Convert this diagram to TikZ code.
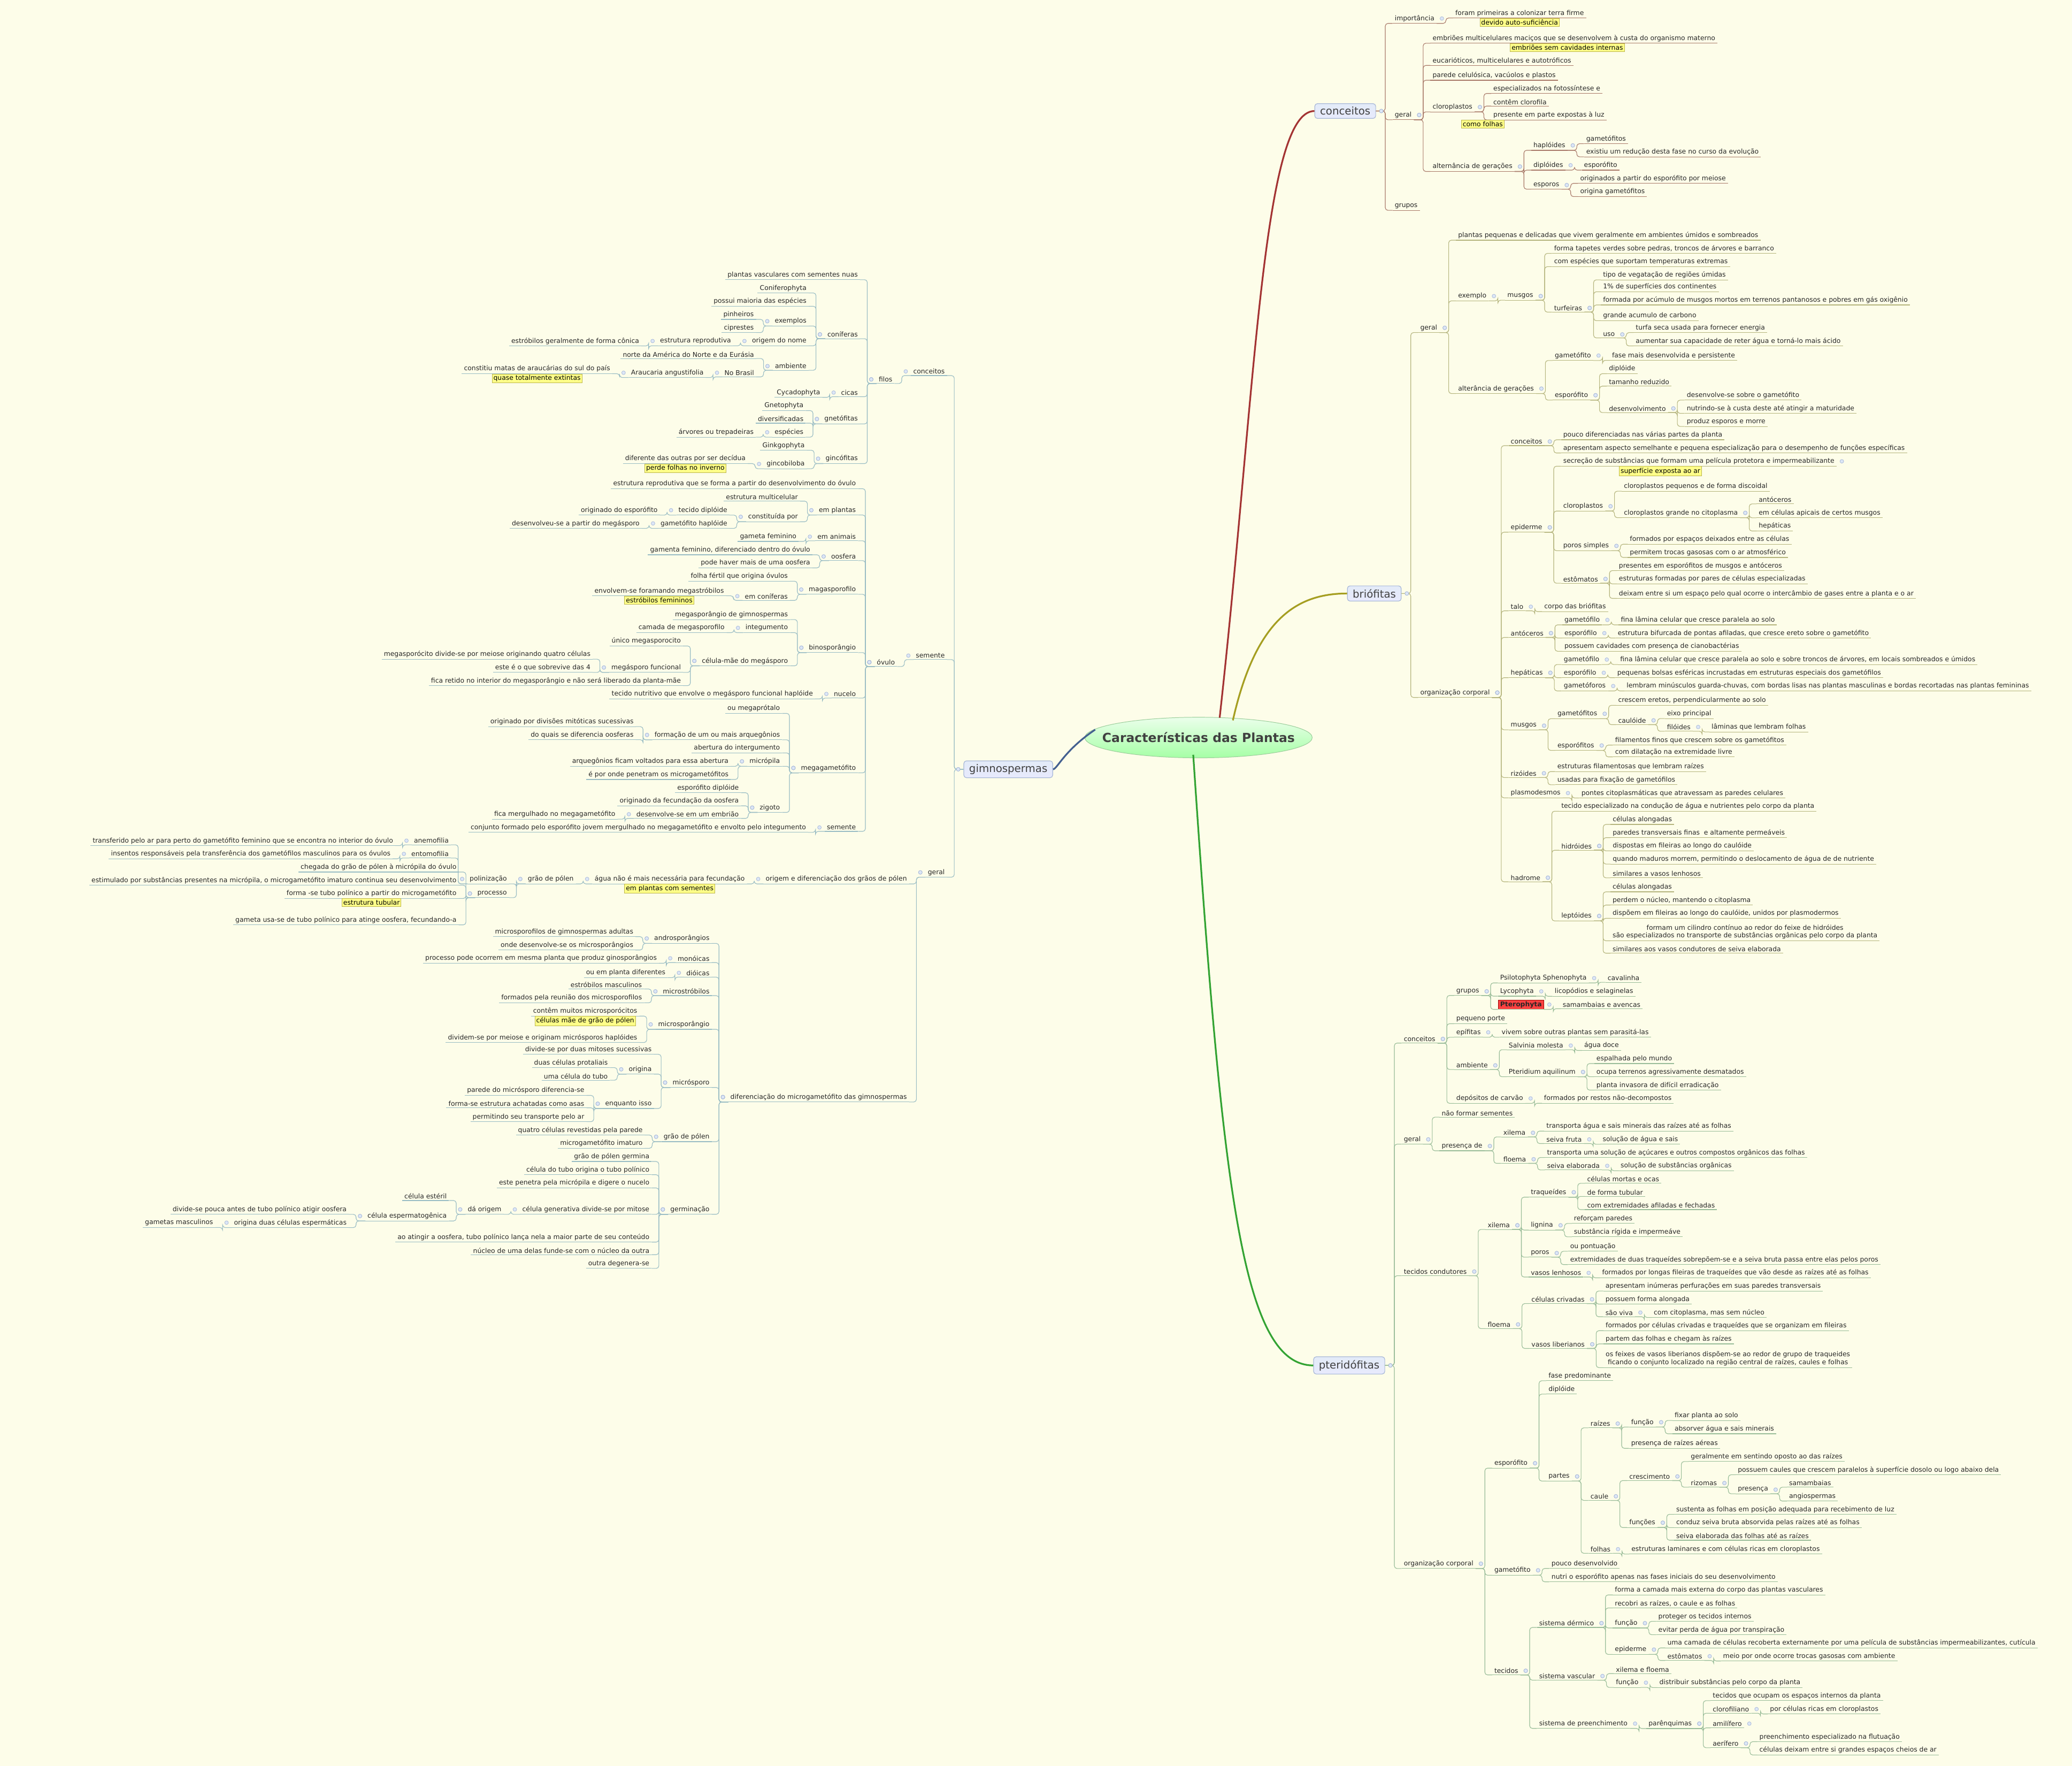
\documentclass[tikz,border=0pt]{standalone}
\usepackage{fontspec}
\setmainfont{DejaVu Sans}
\usetikzlibrary{shapes.geometric,shadings}
\definecolor{bgc}{HTML}{FDFDE9}
\definecolor{lconc}{HTML}{A87868}
\definecolor{lbri}{HTML}{B4B47C}
\definecolor{lpte}{HTML}{98BC98}
\definecolor{lgim}{HTML}{98BCC4}
\definecolor{dotf}{HTML}{DCE6F6}
\definecolor{dotd}{HTML}{A8B8D8}
\definecolor{hly}{HTML}{FFFF88}
\newcommand\fs{\fontsize{5}{6}\selectfont}
\tikzset{
  t/.style={font=\fs, inner xsep=1.5pt, inner ysep=1pt, text=black!85},
  ln/.style={draw=lconc, line width=0.45pt},
  dot/.style={fill=dotf, draw=dotd, line width=0.3pt},
  hl/.style={font=\fs, anchor=north, fill=hly, draw=olive!60, line width=0.3pt, inner xsep=1pt, inner ysep=1pt},
  box/.style={font=\fontsize{8}{9}\selectfont, text=black!75, rounded corners=2pt, draw=dotd, top color=white!20!dotf, bottom color=dotf!80!blue!30, inner xsep=4pt, inner ysep=2.5pt, line width=0.5pt},
  rc/.style={line width=1.3pt}
}
\newcommand\R[5][]{%
  \node[t,anchor=west,xshift=12.5pt,#1] (#3) at (#2.south east |- 0,#4) {#5};
  \draw[ln] (#3.south west) -- (#3.south east);
  \draw[ln,rounded corners=2pt] (#2.south east) -- ([xshift=7pt]#2.south east) |- (#3.south west);
  \filldraw[dot] ([xshift=4pt]#2.east) circle (1.4pt);}
\newcommand\Lf[5][]{%
  \node[t,anchor=east,xshift=-12.5pt,#1] (#3) at (#2.south west |- 0,#4) {#5};
  \draw[ln] (#3.south west) -- (#3.south east);
  \draw[ln,rounded corners=2pt] (#2.south west) -- ([xshift=-7pt]#2.south west) |- (#3.south east);
  \filldraw[dot] ([xshift=-4pt]#2.west) circle (1.4pt);}
\begin{document}
\begin{tikzpicture}[x=1pt,y=-1pt]
\fill[bgc] (0,0) rectangle (1568,1336);
\useasboundingbox (0,0) rectangle (1568,1336);

% root and main boxes
\node[ellipse, inner xsep=-12pt, inner ysep=7pt, draw=green!50!black!40, top color=green!8, bottom color=green!35!white, font=\bfseries\fontsize{9.5}{11}\selectfont, text=black!75] (root) at (907,558) {Características das Plantas};
\node[box] (con) at (1018,84) {conceitos};
\node[box] (bri) at (1040,449) {briófitas};
\node[box] (pte) at (1021,1033) {pteridófitas};
\node[box] (gim) at (763,582) {gimnospermas};
\draw[rc, draw=red!55!black!80] (root.north east) ++(-45pt,4pt) .. controls (950,300) and (955,84) .. (con.west);
\draw[rc, draw=olive!80] (root.north east) ++(-35pt,2pt) .. controls (950,470) and (980,449) .. (bri.west);
\draw[rc, draw=green!55!black!80] (root.south east) ++(-65pt,-2pt) .. controls (925,900) and (940,1033) .. (pte.west);
\draw[rc, draw=cyan!45!blue!65!black] (root.west) ++(8pt,6pt) .. controls (805,568) and (800,582) .. (gim.east);
\coordinate (conX) at (con.east);
\coordinate (briX) at (bri.east);
\coordinate (pteX) at (pte.east);
\coordinate (gimX) at (gim.west);

% ---------------- conceitos
\R{conX}{ci}{14}{importância}
\R{ci}{ci1}{10}{foram primeiras a colonizar terra firme}
\node[hl] (h1) at (ci1.south) {devido auto-suficiência};
\R{conX}{cg}{87}{geral}
\R{cg}{cg1}{29}{embriões multicelulares maciços que se desenvolvem à custa do organismo materno}
\node[hl,xshift=-5pt] (h2) at (cg1.south) {embriões sem cavidades internas};
\R{cg}{cg2}{46}{eucarióticos, multicelulares e autotróficos}
\R{cg}{cg3}{57}{parede celulósica, vacúolos e plastos}
\R{cg}{cg4}{81}{cloroplastos}
\R{cg4}{cg41}{67}{especializados na fotossíntese e}
\R{cg4}{cg42}{77}{contêm clorofila}
\R{cg4}{cg43}{87}{presente em parte expostas à luz}
\node[hl,xshift=-50pt] (h3) at (cg43.south) {como folhas};
\R{cg}{cg5}{126}{alternância de gerações}
\R{cg5}{cg51}{110}{haplóides}
\R{cg51}{cg511}{105}{gametófitos}
\R{cg51}{cg512}{115}{existiu um redução desta fase no curso da evolução}
\R{cg5}{cg52}{125}{diplóides}
\R{cg52}{cg521}{125}{esporófito}
\R{cg5}{cg53}{140}{esporos}
\R{cg53}{cg531}{135}{originados a partir do esporófito por meiose}
\R{cg53}{cg532}{145}{origina gametófitos}
\R{conX}{cgr}{156}{grupos}

% ---------------- briófitas
\tikzset{ln/.style={draw=lbri, line width=0.45pt}}
\R{briX}{bg}{248}{geral}
\R{bg}{bg1}{178}{plantas pequenas e delicadas que vivem geralmente em ambientes úmidos e sombreados}
\R{bg}{bg2}{224}{exemplo}
\R{bg2}{bg21}{224}{musgos}
\R{bg21}{bg211}{188}{forma tapetes verdes sobre pedras, troncos de árvores e barranco}
\R{bg21}{bg212}{198}{com espécies que suportam temperaturas extremas}
\R{bg21}{bg213}{233}{turfeiras}
\R{bg213}{t1}{208}{tipo de vegatação de regiões úmidas}
\R{bg213}{t2}{217}{1\% de superfícies dos continentes}
\R{bg213}{t3}{227}{formada por acúmulo de musgos mortos em terrenos pantanosos e pobres em gás oxigênio}
\R{bg213}{t4}{239}{grande acumulo de carbono}
\R{bg213}{t5}{253}{uso}
\R{t5}{t51}{248}{turfa seca usada para fornecer energia}
\R{t5}{t52}{258}{aumentar sua capacidade de reter água e torná-lo mais ácido}
\R{bg}{bg3}{294}{alterância de gerações}
\R{bg3}{ag1}{269}{gametófito}
\R{ag1}{ag11}{269}{fase mais desenvolvida e persistente}
\R{bg3}{ag2}{299}{esporófito}
\R{ag2}{ag21}{279}{diplóide}
\R{ag2}{ag22}{289}{tamanho reduzido}
\R{ag2}{ag23}{309}{desenvolvimento}
\R{ag23}{ag231}{299}{desenvolve-se sobre o gametófito}
\R{ag23}{ag232}{309}{nutrindo-se à custa deste até atingir a maturidade}
\R{ag23}{ag233}{319}{produz esporos e morre}
\R{briX}{bo}{524}{organização corporal}
\R{bo}{bo1}{334}{conceitos}
\R{bo1}{bo11}{329}{pouco diferenciadas nas várias partes da planta}
\R{bo1}{bo12}{339}{apresentam aspecto semelhante e pequena especialização para o desempenho de funções específicas}
\R{bo}{bo2}{399}{epiderme}
\R{bo2}{bo21}{349}{secreção de substâncias que formam uma película protetora e impermeabilizante}
\filldraw[dot] ([xshift=4pt]bo21.east) circle (1.4pt);
\node[hl,xshift=-29pt] (h4) at (bo21.south) {superfície exposta ao ar};
\R{bo2}{bo22}{383}{cloroplastos}
\R{bo22}{bo221}{368}{cloroplastos pequenos e de forma discoidal}
\R{bo22}{bo222}{388}{cloroplastos grande no citoplasma}
\R{bo222}{bo2221}{378}{antóceros}
\R{bo222}{bo2222}{388}{em células apicais de certos musgos}
\R{bo222}{bo2223}{398}{hepáticas}
\R{bo2}{bo23}{413}{poros simples}
\R{bo23}{bo231}{408}{formados por espaços deixados entre as células}
\R{bo23}{bo232}{418}{permitem trocas gasosas com o ar atmosférico}
\R{bo2}{bo24}{438}{estômatos}
\R{bo24}{bo241}{428}{presentes em esporófitos de musgos e antóceros}
\R{bo24}{bo242}{438}{estruturas formadas por pares de células especializadas}
\R{bo24}{bo243}{449}{deixam entre si um espaço pelo qual ocorre o intercâmbio de gases entre a planta e o ar}
\R{bo}{bo3}{459}{talo}
\R{bo3}{bo31}{459}{corpo das briófitas}
\R{bo}{bo4}{479}{antóceros}
\R{bo4}{bo41}{469}{gametófilo}
\R{bo41}{bo411}{469}{fina lâmina celular que cresce paralela ao solo}
\R{bo4}{bo42}{479}{esporófilo}
\R{bo42}{bo421}{479}{estrutura bifurcada de pontas afiladas, que cresce ereto sobre o gametófito}
\R{bo4}{bo43}{489}{possuem cavidades com presença de cianobactérias}
\R{bo}{bo5}{509}{hepáticas}
\R{bo5}{bo51}{499}{gametófilo}
\R{bo51}{bo511}{499}{fina lâmina celular que cresce paralela ao solo e sobre troncos de árvores, em locais sombreados e úmidos}
\R{bo5}{bo52}{509}{esporófilo}
\R{bo52}{bo521}{509}{pequenas bolsas esféricas incrustadas em estruturas especiais dos gametófilos}
\R{bo5}{bo53}{519}{gametóforos}
\R{bo53}{bo531}{519}{lembram minúsculos guarda-chuvas, com bordas lisas nas plantas masculinas e bordas recortadas nas plantas femininas}
\R{bo}{bo6}{549}{musgos}
\R{bo6}{bo61}{540}{gametófitos}
\R{bo61}{bo611}{530}{crescem eretos, perpendicularmente ao solo}
\R{bo61}{bo612}{545}{caulóide}
\R{bo612}{bo6121}{540}{eixo principal}
\R{bo612}{bo6122}{550}{filóides}
\R{bo6122}{bo61221}{550}{lâminas que lembram folhas}
\R{bo6}{bo62}{564}{esporófitos}
\R{bo62}{bo621}{560}{filamentos finos que crescem sobre os gametófitos}
\R{bo62}{bo622}{569}{com dilatação na extremidade livre}
\R{bo}{bo7}{585}{rizóides}
\R{bo7}{bo71}{580}{estruturas filamentosas que lembram raízes}
\R{bo7}{bo72}{590}{usadas para fixação de gametófilos}
\R{bo}{bo8}{600}{plasmodesmos}
\R{bo8}{bo81}{600}{pontes citoplasmáticas que atravessam as paredes celulares}
\R{bo}{bo9}{664}{hadrome}
\R{bo9}{bo91}{610}{tecido especializado na condução de água e nutrientes pelo corpo da planta}
\R{bo9}{bo92}{640}{hidróides}
\R{bo92}{bo921}{620}{células alongadas}
\R{bo92}{bo922}{630}{paredes transversais finas \ e altamente permeáveis}
\R{bo92}{bo923}{640}{dispostas em fileiras ao longo do caulóide}
\R{bo92}{bo924}{650}{quando maduros morrem, permitindo o deslocamento de água de de nutriente}
\R{bo92}{bo925}{661}{similares a vasos lenhosos}
\R{bo9}{bo93}{693}{leptóides}
\R{bo93}{bo931}{671}{células alongadas}
\R{bo93}{bo932}{681}{perdem o núcleo, mantendo o citoplasma}
\R{bo93}{bo933}{691}{dispõem em fileiras ao longo do caulóide, unidos por plasmodermos}
\R[align=center]{bo93}{bo934}{705}{formam um cilindro contínuo ao redor do feixe de hidróides\\são especializados no transporte de substâncias orgânicas pelo corpo da planta}
\R{bo93}{bo935}{718}{similares aos vasos condutores de seiva elaborada}

% ---------------- pteridófitas
\tikzset{ln/.style={draw=lpte, line width=0.45pt}}
\R{pteX}{pc}{786}{conceitos}
\R{pc}{pc1}{750}{grupos}
\R{pc1}{pc11}{740}{Psilotophyta Sphenophyta}
\R{pc11}{pc111}{740}{cavalinha}
\R{pc1}{pc12}{750}{Lycophyta}
\R{pc12}{pc121}{750}{licopódios e selaginelas}
\R[fill=red!75, draw=red!60!black, font=\fs\bfseries]{pc1}{pc13}{760}{Pterophyta}
\R{pc13}{pc131}{760}{samambaias e avencas}
\R{pc}{pc2}{771}{pequeno porte}
\R{pc}{pc3}{781}{epífitas}
\R{pc3}{pc31}{781}{vivem sobre outras plantas sem parasitá-las}
\R{pc}{pc4}{806}{ambiente}
\R{pc4}{pc41}{791}{Salvinia molesta}
\R{pc41}{pc411}{791}{água doce}
\R{pc4}{pc42}{811}{Pteridium aquilinum}
\R{pc42}{pc421}{801}{espalhada pelo mundo}
\R{pc42}{pc422}{811}{ocupa terrenos agressivamente desmatados}
\R{pc42}{pc423}{821}{planta invasora de difícil erradicação}
\R{pc}{pc5}{831}{depósitos de carvão}
\R{pc5}{pc51}{831}{formados por restos não-decompostos}
\R{pteX}{pg}{862}{geral}
\R{pg}{pg1}{842}{não formar sementes}
\R{pg}{pg2}{867}{presença de}
\R{pg2}{pg21}{857}{xilema}
\R{pg21}{pg211}{852}{transporta água e sais minerais das raízes até as folhas}
\R{pg21}{pg212}{862}{seiva fruta}
\R{pg212}{pg2121}{862}{solução de água e sais}
\R{pg2}{pg22}{877}{floema}
\R{pg22}{pg221}{872}{transporta uma solução de açúcares e outros compostos orgânicos das folhas}
\R{pg22}{pg222}{882}{seiva elaborada}
\R{pg222}{pg2221}{882}{solução de substâncias orgânicas}
\R{pteX}{pt}{962}{tecidos condutores}
\R{pt}{pt1}{927}{xilema}
\R{pt1}{pt11}{902}{traqueídes}
\R{pt11}{pt111}{892}{células mortas e ocas}
\R{pt11}{pt112}{902}{de forma tubular}
\R{pt11}{pt113}{912}{com extremidades afiladas e fechadas}
\R{pt1}{pt12}{927}{lignina}
\R{pt12}{pt121}{922}{reforçam paredes}
\R{pt12}{pt122}{932}{substância rígida e impermeáve}
\R{pt1}{pt13}{948}{poros}
\R{pt13}{pt131}{943}{ou pontuação}
\R{pt13}{pt132}{953}{extremidades de duas traqueídes sobrepõem-se e a seiva bruta passa entre elas pelos poros}
\R{pt1}{pt14}{963}{vasos lenhosos}
\R{pt14}{pt141}{963}{formados por longas fileiras de traqueídes que vão desde as raízes até as folhas}
\R{pt}{pt2}{1002}{floema}
\R{pt2}{pt21}{983}{células crivadas}
\R{pt21}{pt211}{973}{apresentam inúmeras perfurações em suas paredes transversais}
\R{pt21}{pt212}{983}{possuem forma alongada}
\R{pt21}{pt213}{993}{são viva}
\R{pt213}{pt2131}{993}{com citoplasma, mas sem núcleo}
\R{pt2}{pt22}{1017}{vasos liberianos}
\R{pt22}{pt221}{1003}{formados por células crivadas e traqueídes que se organizam em fileiras}
\R{pt22}{pt222}{1013}{partem das folhas e chegam às raízes}
\R[align=center]{pt22}{pt223}{1028}{os feixes de vasos liberianos dispõem-se ao redor de grupo de traqueides\\ficando o conjunto localizado na região central de raízes, caules e folhas}
\R{pteX}{po}{1183}{organização corporal}
\R{po}{po1}{1107}{esporófito}
\R{po1}{po11}{1041}{fase predominante}
\R{po1}{po12}{1051}{diplóide}
\R{po1}{po13}{1117}{partes}
\R{po13}{pr}{1077}{raízes}
\R{pr}{pr1}{1076}{função}
\R{pr1}{pr11}{1071}{fixar planta ao solo}
\R{pr1}{pr12}{1081}{absorver água e sais minerais}
\R{pr}{pr2}{1092}{presença de raízes aéreas}
\R{po13}{pk}{1132}{caule}
\R{pk}{pk1}{1117}{crescimento}
\R{pk1}{pk11}{1102}{geralmente em sentindo oposto ao das raízes}
\R{pk1}{pk12}{1122}{rizomas}
\R{pk12}{pk121}{1112}{possuem caules que crescem paralelos à superfície dosolo ou logo abaixo dela}
\R{pk12}{pk122}{1127}{presença}
\R{pk122}{pk1221}{1122}{samambaias}
\R{pk122}{pk1222}{1132}{angiospermas}
\R{pk}{pk2}{1152}{funções}
\R{pk2}{pk21}{1142}{sustenta as folhas em posição adequada para recebimento de luz}
\R{pk2}{pk22}{1152}{conduz seiva bruta absorvida pelas raízes até as folhas}
\R{pk2}{pk23}{1162}{seiva elaborada das folhas até as raízes}
\R{po13}{pf}{1172}{folhas}
\R{pf}{pf1}{1172}{estruturas laminares e com células ricas em cloroplastos}
\R{po}{po2}{1188}{gametófito}
\R{po2}{po21}{1183}{pouco desenvolvido}
\R{po2}{po22}{1193}{nutri o esporófito apenas nas fases iniciais do seu desenvolvimento}
\R{po}{po3}{1264}{tecidos}
\R{po3}{pd}{1228}{sistema dérmico}
\R{pd}{pd1}{1203}{forma a camada mais externa do corpo das plantas vasculares}
\R{pd}{pd2}{1213}{recobri as raízes, o caule e as folhas}
\R{pd}{pd3}{1228}{função}
\R{pd3}{pd31}{1223}{proteger os tecidos internos}
\R{pd3}{pd32}{1233}{evitar perda de água por transpiração}
\R{pd}{pd4}{1248}{epiderme}
\R{pd4}{pd41}{1243}{uma camada de células recoberta externamente por uma película de substâncias impermeabilizantes, cutícula}
\R{pd4}{pd42}{1253}{estômatos}
\R{pd42}{pd421}{1253}{meio por onde ocorre trocas gasosas com ambiente}
\R{po3}{pv}{1268}{sistema vascular}
\R{pv}{pv1}{1263}{xilema e floema}
\R{pv}{pv2}{1273}{função}
\R{pv2}{pv21}{1273}{distribuir substâncias pelo corpo da planta}
\R{po3}{pp}{1304}{sistema de preenchimento}
\R{pp}{pp1}{1304}{parênquimas}
\R{pp1}{pp11}{1283}{tecidos que ocupam os espaços internos da planta}
\R{pp1}{pp12}{1293}{clorofiliano}
\R{pp12}{pp121}{1293}{por células ricas em cloroplastos}
\R{pp1}{pp13}{1304}{amilífero}
\filldraw[dot] ([xshift=4pt]pp13.east) circle (1.4pt);
\R{pp1}{pp14}{1319}{aerífero}
\R{pp14}{pp141}{1314}{preenchimento especializado na flutuação}
\R{pp14}{pp142}{1324}{células deixam entre si grandes espaços cheios de ar}

% ---------------- gimnospermas
\tikzset{ln/.style={draw=lgim, line width=0.45pt}}
\Lf{gimX}{gc}{281}{conceitos}
\Lf{gc}{gf}{287}{filos}
\Lf{gf}{gf1}{208}{plantas vasculares com sementes nuas}
\Lf{gf}{gf2}{253}{coníferas}
\Lf{gf2}{gf21}{218}{Coniferophyta}
\Lf{gf2}{gf22}{228}{possui maioria das espécies}
\Lf{gf2}{gf23}{243}{exemplos}
\Lf{gf23}{gf231}{238}{pinheiros}
\Lf{gf23}{gf232}{248}{ciprestes}
\Lf{gf2}{gf24}{258}{origem do nome}
\Lf{gf24}{gf241}{258}{estrutura reprodutiva}
\Lf{gf241}{gf2411}{258}{estróbilos geralmente de forma cônica}
\Lf{gf2}{gf25}{277}{ambiente}
\Lf{gf25}{gf251}{268}{norte da América do Norte e da Eurásia}
\Lf{gf25}{gf252}{282}{No Brasil}
\Lf{gf252}{gf2521}{282}{Araucaria angustifolia}
\Lf{gf2521}{gf25211}{279}{constitiu matas de araucárias do sul do país}
\node[hl] (h5) at (gf25211.south) {quase totalmente extintas};
\Lf{gf}{gf3}{297}{cicas}
\Lf{gf3}{gf31}{297}{Cycadophyta}
\Lf{gf}{gf4}{317}{gnetófitas}
\Lf{gf4}{gf41}{307}{Gnetophyta}
\Lf{gf4}{gf42}{317}{diversificadas}
\Lf{gf4}{gf43}{327}{espécies}
\Lf{gf43}{gf431}{327}{árvores ou trepadeiras}
\Lf{gf}{gf5}{347}{gincófitas}
\Lf{gf5}{gf51}{337}{Ginkgophyta}
\Lf{gf5}{gf52}{351}{gincobiloba}
\Lf{gf52}{gf521}{347}{diferente das outras por ser decídua}
\node[hl] (h6) at (gf521.south) {perde folhas no inverno};
\Lf{gimX}{gs}{496}{semente}
\Lf{gs}{go}{501}{óvulo}
\Lf{go}{go1}{366}{estrutura reprodutiva que se forma a partir do desenvolvimento do óvulo}
\Lf{go}{go2}{386}{em plantas}
\Lf{go2}{go21}{376}{estrutura multicelular}
\Lf{go2}{go22}{391}{constituída por}
\Lf{go22}{go221}{386}{tecido diplóide}
\Lf{go221}{go2211}{386}{originado do esporófito}
\Lf{go22}{go222}{396}{gametófito haplóide}
\Lf{go222}{go2221}{396}{desenvolveu-se a partir do megásporo}
\Lf{go}{go3}{406}{em animais}
\Lf{go3}{go31}{406}{gameta feminino}
\Lf{go}{go4}{421}{oosfera}
\Lf{go4}{go41}{416}{gamenta feminino, diferenciado dentro do óvulo}
\Lf{go4}{go42}{426}{pode haver mais de uma oosfera}
\Lf{go}{go5}{446}{magasporofilo}
\Lf{go5}{go51}{436}{folha fértil que origina óvulos}
\Lf{go5}{go52}{451}{em coníferas}
\Lf{go52}{go521}{447}{envolvem-se foramando megastróbilos}
\node[hl] (h7) at (go521.south) {estróbilos femininos};
\Lf{go}{go6}{490}{binosporângio}
\Lf{go6}{go61}{465}{megasporângio de gimnospermas}
\Lf{go6}{go62}{475}{integumento}
\Lf{go62}{go621}{475}{camada de megasporofilo}
\Lf{go6}{go63}{500}{célula-mãe do megásporo}
\Lf{go63}{go631}{485}{único megasporocito}
\Lf{go63}{go632}{505}{megásporo funcional}
\Lf{go632}{go6321}{495}{megasporócito divide-se por meiose originando quatro células}
\Lf{go632}{go6322}{505}{este é o que sobrevive das 4}
\Lf{go63}{go633}{515}{fica retido no interior do megasporângio e não será liberado da planta-mãe}
\Lf{go}{go7}{525}{nucelo}
\Lf{go7}{go71}{525}{tecido nutritivo que envolve o megásporo funcional haplóide}
\Lf{go}{go8}{581}{megagametófito}
\Lf{go8}{go81}{536}{ou megaprótalo}
\Lf{go8}{go82}{556}{formação de um ou mais arquegônios}
\Lf{go82}{go821}{546}{originado por divisões mitóticas sucessivas}
\Lf{go82}{go822}{556}{do quais se diferencia oosferas}
\Lf{go8}{go83}{566}{abertura do intergumento}
\Lf{go8}{go84}{576}{micrópila}
\Lf{go84}{go841}{576}{arquegônios ficam voltados para essa abertura}
\Lf{go84}{go842}{586}{é por onde penetram os microgametófitos}
\Lf{go8}{go85}{611}{zigoto}
\Lf{go85}{go851}{596}{esporófito diplóide}
\Lf{go85}{go852}{606}{originado da fecundação da oosfera}
\Lf{go85}{go853}{616}{desenvolve-se em um embrião}
\Lf{go853}{go8531}{616}{fica mergulhado no megagametófito}
\Lf{go}{go9}{626}{semente}
\Lf{go9}{go91}{626}{conjunto formado pelo esporófito jovem mergulhado no megagametófito e envolto pelo integumento}
\Lf{gimX}{gg}{660}{geral}
\Lf{gg}{gg1}{665}{origem e diferenciação dos grãos de pólen}
\Lf{gg1}{gg11}{665}{água não é mais necessária para fecundação}
\node[hl] (h8) at (gg11.south) {em plantas com sementes};
\Lf{gg11}{gg111}{665}{grão de pólen}
\Lf{gg111}{gp}{665}{polinização}
\Lf{gp}{gp1}{636}{anemofilia}
\Lf{gp1}{gp11}{636}{transferido pelo ar para perto do gametófito feminino que se encontra no interior do óvulo}
\Lf{gp}{gp2}{646}{entomofilia}
\Lf{gp2}{gp21}{646}{insentos responsáveis pela transferência dos gametófilos masculinos para os óvulos}
\Lf{gg111}{gq}{676}{processo}
\Lf{gq}{gq1}{656}{chegada do grão de pólen à micrópila do óvulo}
\Lf{gq}{gq2}{666}{estimulado por substâncias presentes na micrópila, o microgametófito imaturo continua seu desenvolvimento}
\Lf{gq}{gq3}{676}{forma -se tubo polínico a partir do microgametófito}
\node[hl] (h9) at (gq3.south) {estrutura tubular};
\Lf{gq}{gq4}{696}{gameta usa-se de tubo polínico para atinge oosfera, fecundando-a}
\Lf{gg}{gm}{830}{diferenciação do microgametófito das gimnospermas}
\Lf{gm}{gm1}{710}{androsporângios}
\Lf{gm1}{gm11}{705}{microsporofilos de gimnospermas adultas}
\Lf{gm1}{gm12}{715}{onde desenvolve-se os microsporângios}
\Lf{gm}{gm2}{725}{monóicas}
\Lf{gm2}{gm21}{725}{processo pode ocorrem em mesma planta que produz ginosporângios}
\Lf{gm}{gm3}{736}{dióicas}
\Lf{gm3}{gm31}{736}{ou em planta diferentes}
\Lf{gm}{gm4}{750}{microstróbilos}
\Lf{gm4}{gm41}{745}{estróbilos masculinos}
\Lf{gm4}{gm42}{755}{formados pela reunião dos microsporofilos}
\Lf{gm}{gm5}{775}{microsporângio}
\Lf{gm5}{gm51}{765}{contêm muitos microsporócitos}
\node[hl] (h10) at (gm51.south) {células mãe de grão de pólen};
\Lf{gm5}{gm52}{785}{dividem-se por meiose e originam micrósporos haplóides}
\Lf{gm}{gm6}{819}{micrósporo}
\Lf{gm6}{gm61}{794}{divide-se por duas mitoses sucessivas}
\Lf{gm6}{gm62}{809}{origina}
\Lf{gm62}{gm621}{804}{duas células protaliais}
\Lf{gm62}{gm622}{814}{uma célula do tubo}
\Lf{gm6}{gm63}{835}{enquanto isso}
\Lf{gm63}{gm631}{825}{parede do micrósporo diferencia-se}
\Lf{gm63}{gm632}{835}{forma-se estrutura achatadas como asas}
\Lf{gm63}{gm633}{845}{permitindo seu transporte pelo ar}
\Lf{gm}{gm7}{860}{grão de pólen}
\Lf{gm7}{gm71}{855}{quatro células revestidas pela parede}
\Lf{gm7}{gm72}{865}{microgametófito imaturo}
\Lf{gm}{gm8}{915}{germinação}
\Lf{gm8}{gm81}{875}{grão de pólen germina}
\Lf{gm8}{gm82}{885}{célula do tubo origina o tubo polínico}
\Lf{gm8}{gm83}{895}{este penetra pela micrópila e digere o nucelo}
\Lf{gm8}{gm84}{915}{célula generativa divide-se por mitose}
\Lf{gm84}{gm841}{915}{dá origem}
\Lf{gm841}{gm8411}{905}{célula estéril}
\Lf{gm841}{gm8412}{920}{célula espermatogênica}
\Lf{gm8412}{gm84121}{915}{divide-se pouca antes de tubo polínico atigir oosfera}
\Lf{gm8412}{gm84122}{925}{origina duas células espermáticas}
\Lf{gm84122}{gm841221}{925}{gametas masculinos}
\Lf{gm8}{gm85}{936}{ao atingir a oosfera, tubo polínico lança nela a maior parte de seu conteúdo}
\Lf{gm8}{gm86}{946}{núcleo de uma delas funde-se com o núcleo da outra}
\Lf{gm8}{gm87}{956}{outra degenera-se}
\end{tikzpicture}
\end{document}
